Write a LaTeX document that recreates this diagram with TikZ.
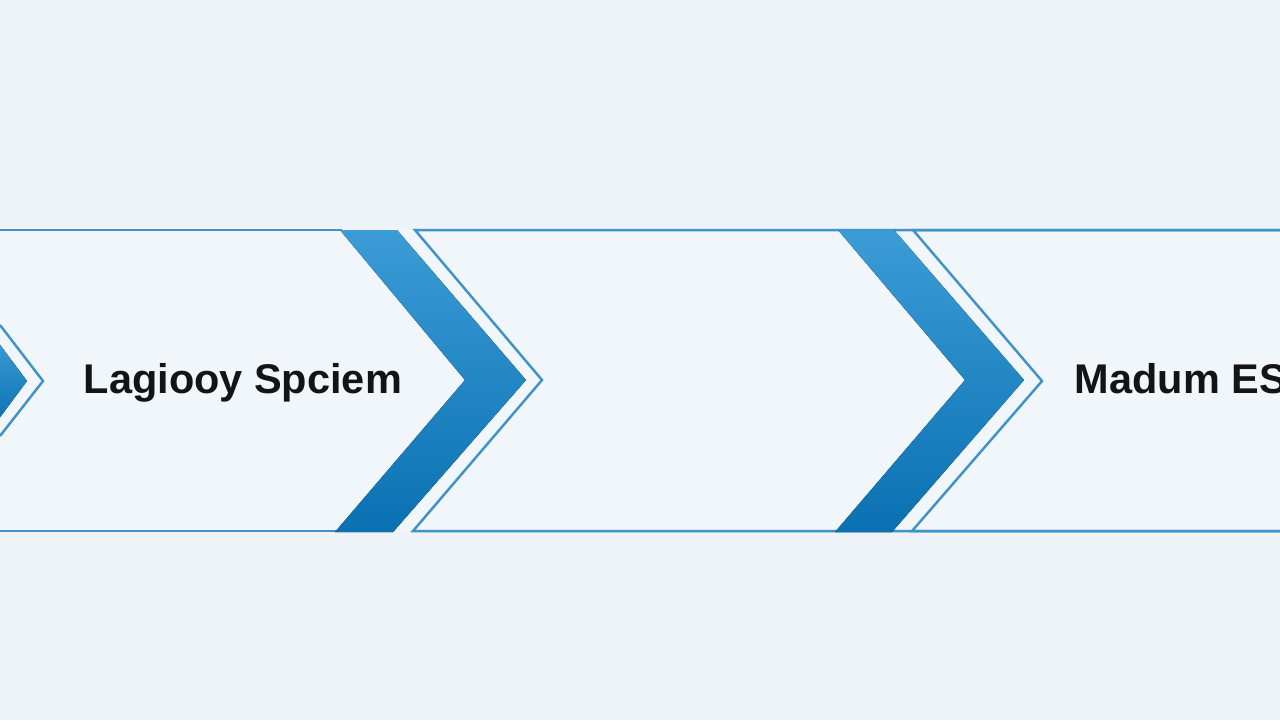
\documentclass[tikz,border=0pt]{standalone}
\usepackage{fontspec}
\setmainfont{Liberation Sans}
\definecolor{bgc}{HTML}{EDF3F9}
\definecolor{bandc}{HTML}{F1F6FB}
\definecolor{linec}{HTML}{3F93C8}
\definecolor{chevtop}{HTML}{3B9CD6}
\definecolor{chevbot}{HTML}{0A71B2}
\definecolor{txtc}{HTML}{141414}
\begin{document}
\begin{tikzpicture}[x=0.01cm,y=-0.01cm,
  thinline/.style={draw=linec,line width=0.7pt,line join=miter},
  thickchev/.style={top color=chevtop,bottom color=chevbot,draw=none},
  label/.style={font=\fontsize{11.8}{14}\selectfont\bfseries,text=txtc,anchor=base west,inner sep=0pt}]
\useasboundingbox (0,0) rectangle (1280,720);
\fill[bgc] (0,0) rectangle (1280,720);
\clip (0,0) rectangle (1280,720);
\fill[bandc] (0,230) rectangle (1280,531);
% left small chevron
\fill[thickchev] (-5,338) -- (27,381) -- (-5,424) -- cycle;
\draw[thinline] (0,325) -- (43,381) -- (0,436);
% panel 1 borders
\draw[thinline] (0,230) -- (342,230);
\draw[thinline] (0,531) -- (337,531);
% chevron 1
\fill[thickchev] (340,230) -- (397,230) -- (526,380) -- (393,532) -- (335,532) -- (465,380) -- cycle;
\draw[thinline] (1280,230) -- (415,230) -- (542,380) -- (413,531) -- (1280,531);
% chevron 2
\fill[thickchev] (838,230) -- (894,230) -- (1024,380) -- (892,532) -- (835,532) -- (965,380) -- cycle;
\draw[thinline] (1280,230) -- (913,230) -- (1042,381) -- (912,531) -- (1280,531);
% labels
\node[label] (t1) at (83,393) {Lagiooy Spciem};
\node[label] (t2) at (1074,393) {Madum ES};
\end{tikzpicture}
\end{document}
